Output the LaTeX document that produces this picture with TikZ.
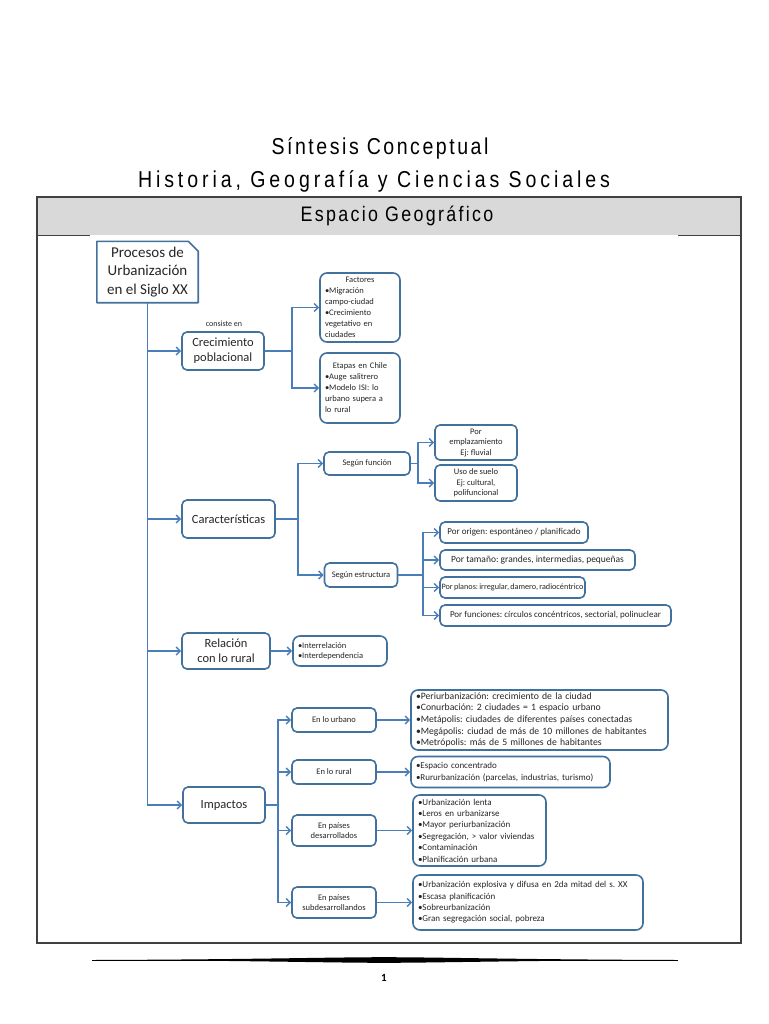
\documentclass[tikz,border=0pt]{standalone}
\usepackage{fontspec}
\setmainfont{Carlito}
\newfontfamily\titlefont[FakeStretch=0.85,LetterSpace=11]{Liberation Sans}
\newfontfamily\titlefontwide[FakeStretch=0.85,LetterSpace=17]{Liberation Sans}
\usetikzlibrary{arrows.meta}
\definecolor{boxc}{RGB}{65,113,156}
\definecolor{linec}{RGB}{74,126,187}
\definecolor{txt}{RGB}{38,38,38}
\definecolor{bandc}{RGB}{217,217,217}
\definecolor{framec}{RGB}{64,64,64}
\newcommand{\tightspaces}{\spaceskip=1.2pt\relax}
\tikzset{
  box/.style={draw=boxc, line width=1.6pt, rounded corners=5pt, fill=white, inner sep=0pt, align=center, text=txt},
  bigbox/.style={box, font=\fontsize{12.5}{15}\selectfont},
  smallbox/.style={box, font=\fontsize{8.5}{10.5}\selectfont},
  listbox/.style={box, rounded corners=7pt, align=left, inner xsep=5pt, inner ysep=0pt, font=\fontsize{9}{11.4}\selectfont},
  conn/.style={draw=linec, line width=1.8pt, -{Straight Barb[length=4pt,width=8pt,line width=1.4pt]}},
  titletext/.style={font=\titlefont\fontsize{23}{26}\selectfont, text=black, inner sep=0pt}
}
\frenchspacing
\begin{document}
\frenchspacing
\begin{tikzpicture}[x=1pt,y=-1pt]
\useasboundingbox (0,0) rectangle (768,1024);
\fill[white] (0,0) rectangle (768,1024);

% titles
\node[titletext] (t1) at (380,148) {Síntesis Conceptual};
\node[titletext, font=\titlefontwide\fontsize{23}{26}\selectfont] (t2) at (374,181) {Historia, Geografía y Ciencias Sociales};

% frame and band
\fill[bandc] (37,197) rectangle (741,235);
\draw[framec, line width=1.2pt] (37,197) rectangle (741,943);
\draw[framec, line width=1pt] (37,235) -- (90,235) (678,235) -- (741,235);
\node[titletext, font=\titlefont\fontsize{21}{24}\selectfont] (t3) at (397,216) {Espacio Geográfico};

% main box
\node[inner sep=0pt, minimum width=101pt, minimum height=61pt, align=center, text=txt,
      font=\fontsize{15}{18.5}\selectfont] (main) at (147.5,272) {Procesos de\\Urbanización\\en el Siglo XX};
\draw[boxc, line width=1.6pt, line join=round] (main.south west) -- (main.north west) -- ([xshift=-10pt]main.north east)
  -- ([yshift=-10pt]main.north east) -- (main.south east) -- cycle;

% level 1
\node[text=txt, font=\fontsize{8}{9}\selectfont, inner sep=0pt] (cons) at (224,324) {consiste en};
\node[bigbox, minimum width=82pt, minimum height=38pt] (crec) at (223,351) {Crecimiento\\poblacional};
\node[bigbox, minimum width=93pt, minimum height=38pt] (car) at (228.5,519) {Características};
\node[bigbox, minimum width=88pt, minimum height=36pt] (rel) at (226,651) {Relación\\con lo rural};
\node[bigbox, minimum width=82pt, minimum height=36pt] (imp) at (224,805) {Impactos};

\draw[conn] (main.south) |- (crec.west);
\draw[conn] (main.south) |- (car.west);
\draw[conn] (main.south) |- (rel.west);
\draw[conn] (main.south) |- (imp.west);

% Crecimiento poblacional
\node[listbox, text width=70pt, minimum height=69pt, font=\fontsize{8.5}{11}\selectfont] (fact) at (360,307.5)
 {\makebox[70pt][c]{Factores}\\•Migración\\campo-ciudad\\•Crecimiento\\\makebox[70pt][s]{vegetativo en}\\ciudades};
\node[listbox, text width=70pt, minimum height=70pt, font=\fontsize{8.5}{11}\selectfont] (etap) at (360,388)
 {\makebox[70pt][c]{Etapas en Chile}\\•Auge salitrero\\\makebox[70pt][s]{•Modelo ISI: lo}\\\makebox[70pt][s]{urbano supera a}\\lo rural};
\coordinate (f1) at (292,351);
\draw[line width=1.8pt, linec] (crec.east) -- (f1);
\draw[conn] (f1) |- (fact.west);
\draw[conn] (f1) |- (etap.west);

% Caracteristicas
\node[smallbox, minimum width=86pt, minimum height=23pt] (sfun) at (367,463.5) {Según función};
\node[smallbox, minimum width=73pt, minimum height=24pt] (sest) at (361,575) {Según estructura};
\coordinate (f2) at (298,519);
\draw[line width=1.8pt, linec] (car.east) -- (f2);
\draw[conn] (f2) |- (sfun.west);
\draw[conn] (f2) |- (sest.west);

\node[smallbox, minimum width=82pt, minimum height=35pt] (emp) at (476,442.5) {Por\\emplazamiento\\Ej: fluvial};
\node[smallbox, minimum width=82pt, minimum height=36pt] (uso) at (476,483) {Uso de suelo\\Ej: cultural,\\polifuncional};
\coordinate (f3) at (418,463.5);
\draw[line width=1.8pt, linec] (sfun.east) -- (f3);
\draw[conn] (f3) |- (emp.west);
\draw[conn] (f3) |- (uso.west);

\node[smallbox, minimum width=148pt, minimum height=21pt, font=\fontsize{9}{10.5}\selectfont] (o1) at (514,532.5) {Por origen: espontáneo / planificado};
\node[smallbox, minimum width=195pt, minimum height=20pt, font=\fontsize{9.5}{10.5}\selectfont] (o2) at (537.5,560) {Por tamaño: grandes, intermedias, pequeñas};
\node[smallbox, minimum width=145pt, minimum height=21pt, font=\fontsize{8.2}{10.5}\selectfont] (o3) at (512.5,587.5) {\tightspaces Por planos: irregular, damero, radiocéntrico};
\node[smallbox, minimum width=231pt, minimum height=21pt, font=\fontsize{9}{10.5}\selectfont] (o4) at (555.5,615.5) {Por funciones: círculos concéntricos, sectorial, polinuclear};
\coordinate (f4) at (423,575);
\draw[line width=1.8pt, linec] (sest.east) -- (f4);
\draw[conn] (f4) |- (o1.west);
\draw[conn] (f4) |- (o2.west);
\draw[conn] (f4) |- (o3.west);
\draw[conn] (f4) |- (o4.west);

% Relacion con lo rural
\node[listbox, text width=84pt, minimum height=30pt, font=\fontsize{8.5}{10.5}\selectfont] (relb) at (340,651) {•Interrelación\\•Interdependencia};
\draw[conn] (rel.east) -- (relb.west);

% Impactos
\node[smallbox, minimum width=84pt, minimum height=24pt] (urb) at (334,720) {En lo urbano};
\node[smallbox, minimum width=84pt, minimum height=24pt] (rur) at (334,772) {En lo rural};
\node[smallbox, minimum width=84pt, minimum height=31pt] (des) at (334,830.5) {En países\\desarrollados};
\node[smallbox, minimum width=84pt, minimum height=31pt] (sub) at (334,902.5) {En países\\subdesarrollandos};
\coordinate (f5) at (278,805);
\draw[line width=1.8pt, linec] (imp.east) -- (f5);
\draw[conn] (f5) |- (urb.west);
\draw[conn] (f5) |- (rur.west);
\draw[conn] (f5) |- (des.west);
\draw[conn] (f5) |- (sub.west);

\node[listbox, text width=247pt, minimum height=60pt, font=\fontsize{9.7}{11.6}\selectfont] (urbB) at (539.5,720)
 {•Periurbanización: crecimiento de la ciudad\\•Conurbación: 2 ciudades = 1 espacio urbano\\•Metápolis: ciudades de diferentes países conectadas\\•Megápolis: ciudad de más de 10 millones de habitantes\\•Metrópolis: más de 5 millones de habitantes};
\node[listbox, text width=189pt, minimum height=31pt] (rurB) at (510.5,772)
 {•Espacio concentrado\\•Rururbanización (parcelas, industrias, turismo)};
\node[listbox, text width=123pt, minimum height=71pt] (desB) at (479.5,830.5)
 {•Urbanización lenta\\•Leros en urbanizarse\\•Mayor periurbanización\\•Segregación, > valor viviendas\\•Contaminación\\•Planificación urbana};
\node[listbox, text width=220pt, minimum height=55pt] (subB) at (528,902.5)
 {•Urbanización explosiva y difusa en 2da mitad del s. XX\\•Escasa planificación\\•Sobreurbanización\\•Gran segregación social, pobreza};
\draw[conn] (urb.east) -- (urbB.west);
\draw[conn] (rur.east) -- (rurB.west);
\draw[conn] (des.east) -- (desB.west);
\draw[conn] (sub.east) -- (subB.west);

% footer
\fill[black] (92,960) .. controls (250,959.5) and (330,957.2) .. (384,957.2) .. controls (438,957.2) and (518,959.5) .. (678,960)
  .. controls (518,960.5) and (438,962.8) .. (384,962.8) .. controls (330,962.8) and (250,960.5) .. (92,960) -- cycle;
\draw[black, line width=0.6pt] (92,960) -- (678,960);
\node[font=\bfseries\fontsize{11}{13}\selectfont, inner sep=0pt] (pg) at (384,978) {1};
\end{tikzpicture}
\end{document}
